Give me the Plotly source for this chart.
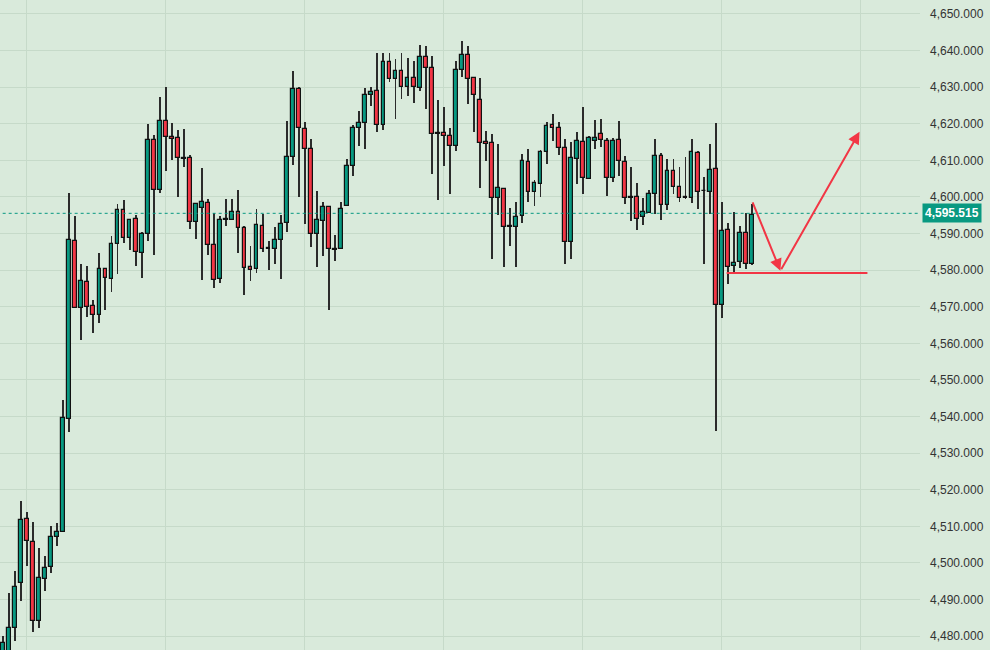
import plotly.graph_objects as go

opens = [4474,4475,4482.3,4494.4,4512,4505.6,4484,4495.5,4499,4507,4508.5,4539.2,4587.9,4569.7,4576.7,4570.1,4567.8,4580.2,4577.7,4587,
4596.3,4588.7,4593.9,4584.6,4589.8,4615.5,4601.8,4620.7,4616.3,4616,4610.5,4610.5,4593.1,4597,4598.3,4586.8,4577.5,4593.6,4593.6,4595.8,
4591.4,4580.8,4580.2,4592,4585.7,4585.7,4588.1,4592.8,4610.8,4629.4,4618.5,4613,4589.8,4593.3,4597.2,4585.5,4585.7,4597.4,4608.4,4618.8,
4620.1,4627.8,4628.9,4619.6,4636.8,4632.1,4634.3,4630,4632.4,4629.7,4638.2,4635.2,4617.2,4617.4,4616.6,4613.8,4634.6,4638.7,4632.4,4626.4,
4614.9,4614.7,4599.6,4602.1,4591.9,4591.7,4594.7,4609.5,4601.3,4603.5,4612.2,4619.6,4618.8,4613.3,4587.6,4610.3,4614.9,4604.8,4615.2,4617.1,
4615.2,4605.1,4615.5,4609.5,4599.8,4600.1,4594.4,4595.5,4600.7,4611.1,4597.7,4607,4602.6,4599.7,4599.6,4611.9,4601.5,4601.3,4607.5,4570.6,
4590.9,4581.1,4582.1,4590.1,4581.6]
highs = [4480,4491.7,4497.7,4517,4514,4511.2,4504,4501.8,4510,4511,4544.5,4601,4594.8,4581.7,4581.1,4571.8,4584.7,4580.7,4589.3,4598,
4599.2,4594,4595,4590.3,4620,4616.8,4627.3,4630,4620.1,4618.2,4618.5,4611.4,4598,4607.8,4599.4,4595.5,4594.7,4599.4,4599.4,4601.8,
4592,4586.5,4596.6,4595.3,4587.9,4591.7,4595,4620.7,4634.3,4630,4620.4,4615.7,4601.5,4598.5,4597.4,4589.5,4598.5,4610.3,4619.6,4623.4,
4629.7,4630,4639.2,4639.2,4639.2,4637.6,4639.2,4637.9,4637,4641.5,4641.3,4638.4,4626.4,4624.5,4618.8,4637,4642.5,4641.3,4632.4,4632.4,
4617.9,4617.1,4614.4,4602.1,4596.9,4598.5,4611.6,4613,4604.5,4612.7,4620.4,4622.6,4620.4,4615.8,4614.9,4617.7,4624.5,4616.6,4621,4621.2,
4616,4616,4620.7,4611.1,4608.1,4603.7,4599.6,4601.8,4615.8,4611.9,4610.3,4610.3,4608.1,4610.8,4615.7,4612.5,4605.4,4614.4,4620.1,4598.5,
4592.8,4595.8,4592,4595.5,4598]
lows = [4472,4472,4478.7,4489.6,4499.2,4481.2,4482.3,4492.4,4497.2,4504.6,4508.5,4535.7,4569.7,4560.9,4567.3,4562.9,4565.6,4569.1,4574,4579,
4587.3,4585.5,4581.2,4577.9,4588,4584.2,4601.2,4607.2,4610.2,4600.1,4608.3,4591.1,4588.6,4577.2,4584,4575,4576.4,4592,4593.6,4584.8,
4573.1,4576.9,4579.1,4584.9,4580,4581.6,4577.5,4590.3,4608.6,4600.1,4592.5,4586.2,4580.8,4583.8,4569,4582.4,4585.7,4597.4,4605.6,4613.8,
4613,4624.8,4617.7,4618.2,4631.3,4621.2,4626.7,4627.5,4625.6,4628.9,4624,4606.2,4599.1,4608.4,4600.7,4612.5,4632.7,4625.3,4617.7,4602.4,
4609.7,4583,4595,4580.8,4586.5,4580.8,4593,4598.5,4597.4,4600.1,4608.9,4615.2,4611.4,4581.6,4583,4603.5,4600.7,4604.8,4613,4613.6,
4600.2,4604,4605.6,4598,4593.3,4590.9,4592.2,4595.5,4595.3,4593.6,4596.3,4600.7,4598.5,4599.3,4598.3,4596.8,4581.8,4595.3,4536.1,4566.8,
4576.1,4579.4,4580.5,4580.2,4581.3]
closes = [4478,4482.3,4493.3,4511.7,4506,4484,4495.8,4498.5,4507,4508.5,4539.5,4588.1,4569.7,4577,4570,4567.8,4580.2,4577.9,4587,4596.3,
4588.7,4593.6,4584.9,4589.8,4615.5,4601.8,4620.7,4616.3,4615.7,4610.5,4610.4,4593.1,4598,4598.6,4586.8,4577.2,4593.6,4593.7,4595.8,4591.4,
4580.5,4580,4592.2,4585.7,4585.8,4588.1,4592.5,4610.8,4629.4,4618.8,4613,4589.8,4593.6,4597.2,4585.7,4585.4,4596.6,4608.4,4618.8,4620.1,
4627.8,4628.6,4619.6,4636.8,4632.1,4634.3,4630,4632.4,4630,4638.2,4635.2,4617.1,4617.2,4616.6,4613.8,4634.6,4638.7,4632.1,4627.8,4614.7,
4614.4,4599.6,4602.4,4591.7,4591.8,4594.4,4609.7,4601.3,4603.7,4612.2,4619.3,4618.8,4613.3,4587.6,4610.6,4615.2,4605.1,4616,4616,4615.5,
4605.1,4615.2,4609.7,4599.6,4599.8,4593.9,4595.8,4600.7,4611.1,4597.7,4607,4602.6,4599.6,4599.7,4612.2,4601.3,4601.5,4607.3,4570.6,4590.6,
4580.8,4581.9,4590.1,4581.6,4595.0]
idx = list(range(len(opens)))

last_price = 4595.515
tick_vals = list(range(4480, 4651, 10))
tick_text = [f"{v:,.3f}" for v in tick_vals]
vgrid = [4, 27, 50, 73, 96, 119, 142]

# drawing (arrows) in data coordinates
path_x = [124.0, 128.7, 141.8]
path_y = [4598.9, 4579.8, 4617.8]
hline_x = [119.8, 143.1]
hline_y = 4579.2

RED = "#f23645"
GREEN = "#089981"
body_base = [min(o, c) for o, c in zip(opens, closes)]
body_h = [max(abs(c - o), 0.25) for o, c in zip(opens, closes)]
body_col = [GREEN if c >= o else RED for o, c in zip(opens, closes)]

fig = go.Figure()
fig.add_trace(go.Bar(x=idx, base=lows, y=[h - l for h, l in zip(highs, lows)], width=0.15,
                     marker=dict(color="#2b2b2b", line=dict(width=0)), hoverinfo="skip", showlegend=False))
fig.add_trace(go.Bar(x=idx, base=body_base, y=body_h, width=0.62,
                     marker=dict(color=body_col, line=dict(color="#111111", width=1.2)),
                     hoverinfo="skip", showlegend=False))

fig.add_shape(type="line", xref="x", yref="y", x0=-1, x1=155, y0=last_price, y1=last_price,
              line=dict(color=GREEN, width=1, dash="dot"))
fig.add_shape(type="line", xref="x", yref="y", x0=hline_x[0], x1=hline_x[1], y0=hline_y, y1=hline_y,
              line=dict(color=RED, width=2))
for i in range(2):
    fig.add_annotation(x=path_x[i+1], y=path_y[i+1], ax=path_x[i], ay=path_y[i],
                       xref="x", yref="y", axref="x", ayref="y", text="", showarrow=True,
                       arrowhead=2, arrowsize=1.2, arrowwidth=2, arrowcolor=RED)
fig.add_annotation(x=1.0, xref="paper", y=last_price, yref="y", text=f"<b>{last_price:,.3f}</b>",
                   showarrow=False, xanchor="left", xshift=2, bgcolor=GREEN,
                   font=dict(color="white", size=12, family="Liberation Sans"), borderpad=2)

fig.update_layout(
    width=990, height=650, margin=dict(l=0, r=70, t=0, b=0),
    paper_bgcolor="#d9eadb", plot_bgcolor="#d9eadb", barmode="overlay", bargap=0,
    xaxis=dict(range=[-0.45, 151.8], showticklabels=False,
               tickvals=vgrid, showgrid=True, gridcolor="#c6dac9", zeroline=False, showline=False),
    yaxis=dict(range=[4476.2, 4653.8], side="right", tickvals=tick_vals, ticktext=tick_text,
               showgrid=True, gridcolor="#c6dac9", zeroline=False, ticks="", ticklabelstandoff=9,
               tickfont=dict(family="Liberation Sans", size=12, color="#333333")),
)
fig.write_html("out.html", config={"displayModeBar": False},
               post_script="document.body.style.margin='0';")
